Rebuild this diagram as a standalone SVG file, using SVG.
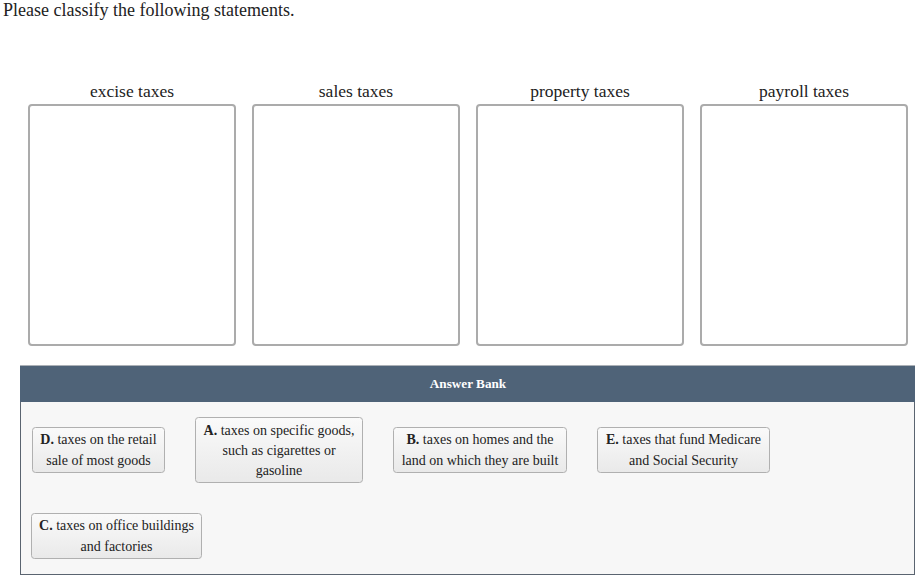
<svg xmlns="http://www.w3.org/2000/svg" width="924" height="588" viewBox="0 0 924 588">
<style>
text{font-family:"Liberation Serif","Times New Roman",serif;fill:#222}
.title{font-size:18px}
.head{font-size:17.5px;text-anchor:middle}
.drop{fill:#fff;stroke:#ababab;stroke-width:2}
.card{fill:url(#cg);stroke:#b0b0b0;stroke-width:1}
.ct{font-size:14px;text-anchor:middle}
.ab{font-size:13.2px;font-weight:bold;fill:#fff;text-anchor:middle}
</style>
<defs>
<linearGradient id="cg" x1="0" y1="0" x2="0" y2="1">
<stop offset="0" stop-color="#fafafa"/>
<stop offset="1" stop-color="#e9e9e9"/>
</linearGradient>
</defs>
<rect width="924" height="588" fill="#fff"/>
<text class="title" x="3" y="16">Please classify the following statements.</text>
<g id="cat-excise">
<text class="head" x="132" y="97">excise taxes</text>
<rect class="drop" x="29" y="105" width="206" height="240" rx="3"/>
</g>
<g id="cat-sales">
<text class="head" x="356" y="97">sales taxes</text>
<rect class="drop" x="253" y="105" width="206" height="240" rx="3"/>
</g>
<g id="cat-property">
<text class="head" x="580" y="97">property taxes</text>
<rect class="drop" x="477" y="105" width="206" height="240" rx="3"/>
</g>
<g id="cat-payroll">
<text class="head" x="804" y="97">payroll taxes</text>
<rect class="drop" x="701" y="105" width="206" height="240" rx="3"/>
</g>
<g id="answer-bank">
<rect x="20.5" y="366" width="894" height="208.5" fill="#f7f7f7" stroke="#5a6470" stroke-width="1"/>
<rect x="20" y="366" width="895" height="36" fill="#4f6378"/>
<text class="ab" x="468" y="388">Answer Bank</text>
</g>
<g id="card-D">
<rect class="card" x="32.5" y="427.5" width="132" height="45" rx="3"/>
<text class="ct" x="98.5" y="444"><tspan font-weight="bold">D.</tspan> taxes on the retail</text>
<text class="ct" x="98.5" y="464.5">sale of most goods</text>
</g>
<g id="card-A">
<rect class="card" x="195.5" y="417.5" width="167" height="65" rx="3"/>
<text class="ct" x="279" y="434.5"><tspan font-weight="bold">A.</tspan> taxes on specific goods,</text>
<text class="ct" x="279" y="454.5">such as cigarettes or</text>
<text class="ct" x="279" y="474.5">gasoline</text>
</g>
<g id="card-B">
<rect class="card" x="393.5" y="427.5" width="173" height="45" rx="3"/>
<text class="ct" x="480" y="444"><tspan font-weight="bold">B.</tspan> taxes on homes and the</text>
<text class="ct" x="480" y="464.5">land on which they are built</text>
</g>
<g id="card-E">
<rect class="card" x="597.5" y="427.5" width="172" height="45" rx="3"/>
<text class="ct" x="683.5" y="444"><tspan font-weight="bold">E.</tspan> taxes that fund Medicare</text>
<text class="ct" x="683.5" y="464.5">and Social Security</text>
</g>
<g id="card-C">
<rect class="card" x="31.5" y="513.5" width="170" height="45" rx="3"/>
<text class="ct" x="116.5" y="530"><tspan font-weight="bold">C.</tspan> taxes on office buildings</text>
<text class="ct" x="116.5" y="550.5">and factories</text>
</g>
<g id="connectors"/>
</svg>
